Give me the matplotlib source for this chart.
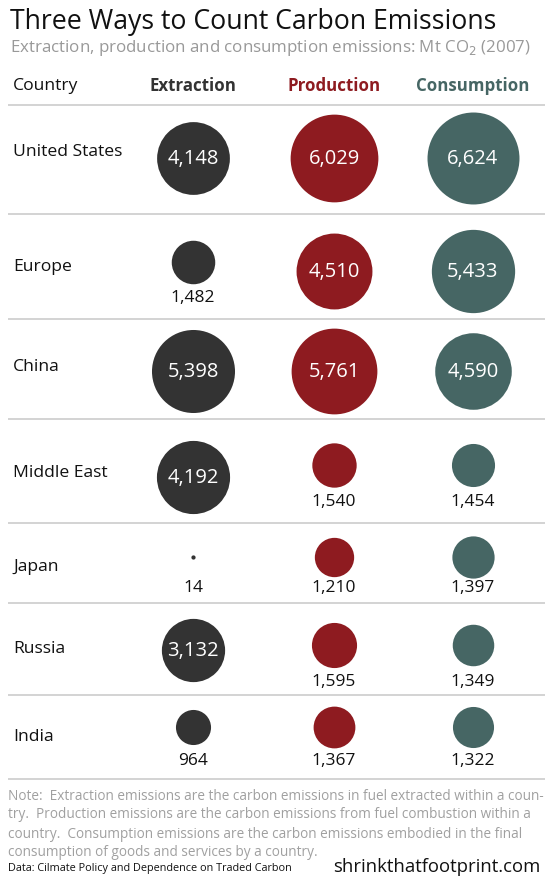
import matplotlib
matplotlib.use("Agg")
import matplotlib.pyplot as plt

plt.rcParams['font.family'] = ['Open Sans', 'DejaVu Sans']

# data: Mt CO2 (2007)
countries = ['United States', 'Europe', 'China', 'Middle East', 'Japan', 'Russia', 'India']
extraction = [4148, 1482, 5398, 4192, 14, 3132, 964]
production = [6029, 4510, 5761, 1540, 1210, 1595, 1367]
consumption = [6624, 5433, 4590, 1454, 1397, 1349, 1322]
columns = ['Extraction', 'Production', 'Consumption']

note_lines = [
    'Note:  Extraction emissions are the carbon emissions in fuel extracted within a coun-',
    'try.  Production emissions are the carbon emissions from fuel combustion within a',
    'country.  Consumption emissions are the carbon emissions embodied in the final',
    'consumption of goods and services by a country.',
]

# layout (pixels, top-down)
col_x = [193, 334, 473]
col_colors = ['#333333', '#8e1b20', '#466664']
rule_y = [104.5, 214, 319, 419, 523, 603, 695, 779]
name_y = [152, 267, 367, 473, 567, 649, 737]
big_y = [158, 271, 371, 477, 563, 650, 737]
small_y = [158, 262, 371, 465, 557, 645, 727]
label_y = [190, 298, 400, 502, 588, 682, 761]
note_y = [796, 815, 834, 852]
k_s = 0.662   # marker area (pt^2) per Mt

fig = plt.figure(figsize=(5.5, 8.82), dpi=100)
ax = fig.add_axes([0, 0, 1, 1])
ax.set_xlim(0, 550)
ax.set_ylim(882, 0)
ax.axis('off')

ax.text(10, 22, 'Three Ways to Count Carbon Emissions', fontsize=19.2,
        color='#111111', va='center', ha='left')
ax.text(10, 48, 'Extraction, production and consumption emissions: Mt CO$_2$ (2007)',
        fontsize=12.2, color='#999999', va='center', ha='left')

ax.text(13, 86, 'Country', fontsize=12.6, color='#111111', va='center')
for x, name, c in zip(col_x, columns, col_colors):
    ax.text(x, 86, name, fontsize=12.2, fontweight='bold', color=c,
            ha='center', va='center')

for y in rule_y:
    ax.plot([8, 545], [y, y], color='#cccccc', lw=1.2, solid_capstyle='butt')

series = [extraction, production, consumption]
for i, country in enumerate(countries):
    ax.text(13, name_y[i], country, fontsize=12.6, color='#111111', va='center')
    for x, vals, c in zip(col_x, series, col_colors):
        v = vals[i]
        inside = v >= 2000
        cy = big_y[i] if inside else small_y[i]
        ax.scatter([x], [cy], s=v * k_s, color=c, linewidths=0, zorder=3)
        if inside:
            ax.text(x, cy + 1, f'{v:,}', fontsize=14.5, color='white',
                    ha='center', va='center', zorder=4)
        else:
            ax.text(x, label_y[i], f'{v:,}', fontsize=12.5, color='#111111',
                    ha='center', va='center', zorder=4)

for y, line in zip(note_y, note_lines):
    ax.text(8, y, line, fontsize=9.8, color='#a0a0a0', va='center', ha='left')
ax.text(8, 868, 'Data: Cilmate Policy and Dependence on Traded Carbon',
        fontsize=7.8, color='#111111', va='center', ha='left')
ax.text(540, 867, 'shrinkthatfootprint.com', fontsize=13.3, color='#111111',
        va='center', ha='right')

fig.savefig('out.png', dpi=100)
